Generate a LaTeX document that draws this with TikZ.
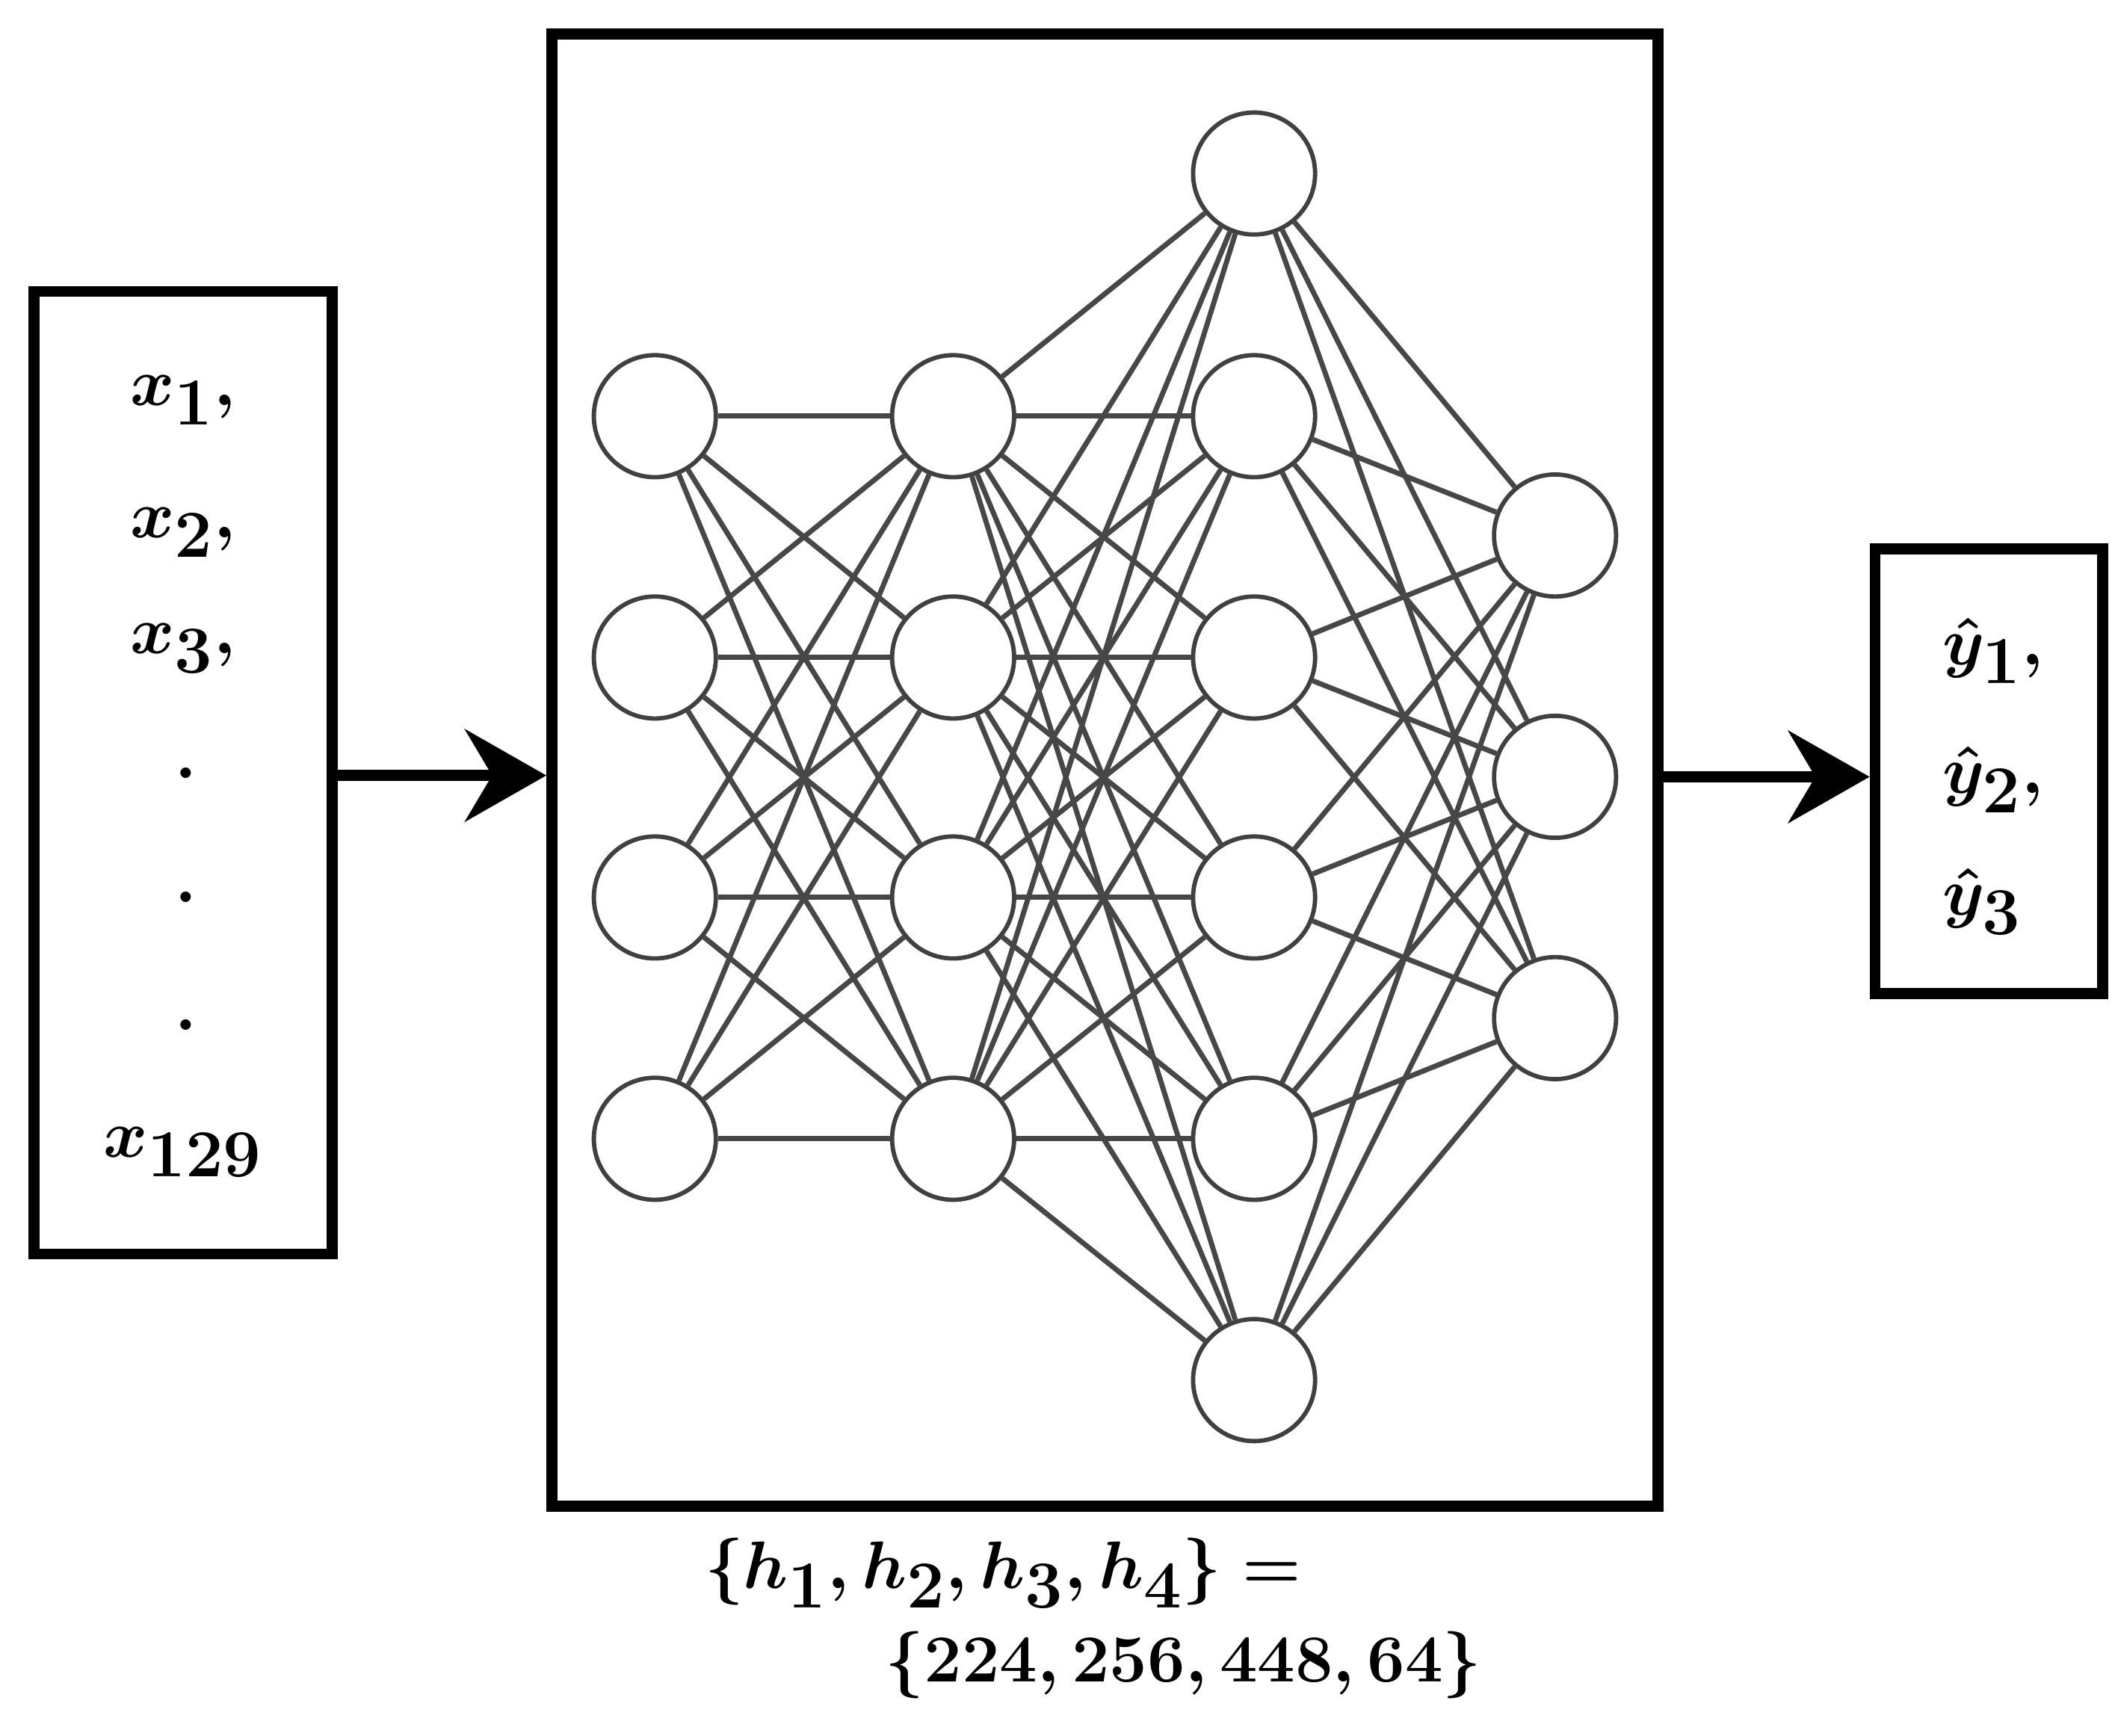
\documentclass[tikz,border=0pt]{standalone}
\usetikzlibrary{arrows.meta}
\begin{document}
\begin{tikzpicture}[x=0.5bp,y=-0.5bp,
  neuron/.style={circle,draw=black!75,line width=1.6bp,fill=white,minimum size=45bp,inner sep=0},
  edge/.style={draw=black!72,line width=1.9bp},
  frame/.style={draw=black,line width=4bp},
  big/.style={font=\fontsize{60}{66}\selectfont\boldmath},
  lab/.style={font=\fontsize{55}{60}\selectfont\boldmath},
  arr/.style={line width=4bp,-{Stealth[length=30bp,width=34bp,inset=10bp]}}]
\useasboundingbox (0,0) rectangle (1560,1280);
\node[frame,minimum width=110bp,minimum height=355bp,inner sep=0] (in) at (135,570) {};
\node[frame,minimum width=408bp,minimum height=543bp,inner sep=0] (net) at (815,568) {};
\node[frame,minimum width=84bp,minimum height=164bp,inner sep=0] (out) at (1467,569) {};
\node[big] (x1) at (135,295) {$x_1,$};
\node[big] (x2) at (135,393) {$x_2,$};
\node[big] (x3) at (135,478) {$x_3,$};
\node[big] (d1) at (137,570) {$.$};
\node[big] (d2) at (137,662) {$.$};
\node[big] (d3) at (137,756) {$.$};
\node[big] (x4) at (135,850) {$x_{129}$};
\node[big] (y1) at (1470,480) {$\hat y_1,$};
\node[big] (y2) at (1470,575) {$\hat y_2,$};
\node[big] (y3) at (1462,665) {$\hat y_3$};
\node[lab] (l1) at (740,1160) {$\{h_1,h_2,h_3,h_4\}=$};
\node[lab] (l2) at (873,1228) {$\{224,256,448,64\}$};
\draw[arr] (in.east|-0,572) -- (net.west|-0,572);
\draw[arr] (net.east|-0,573) -- (out.west|-0,573);
\foreach \i/\y in {1/307,2/485,3/662,4/840}{
  \node[neuron] (a\i) at (483,\y) {};
  \node[neuron] (b\i) at (703,\y) {};}
\foreach \i/\y in {1/128,2/307,3/485,4/662,5/840,6/1018}
  \node[neuron] (c\i) at (925,\y) {};
\foreach \i/\y in {1/395,2/573,3/751}
  \node[neuron] (d\i) at (1147,\y) {};
\foreach \i in {1,...,4}{\foreach \j in {1,...,4}{\draw[edge] (a\i) -- (b\j);}}
\foreach \i in {1,...,4}{\foreach \j in {1,...,6}{\draw[edge] (b\i) -- (c\j);}}
\foreach \i in {1,...,6}{\foreach \j in {1,...,3}{\draw[edge] (c\i) -- (d\j);}}
\end{tikzpicture}
\end{document}
